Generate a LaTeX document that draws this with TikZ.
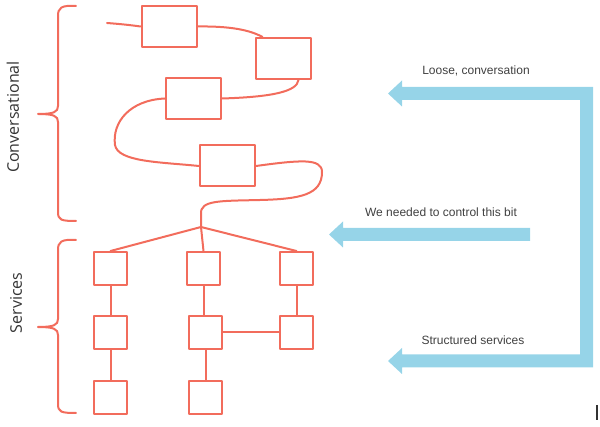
\documentclass[tikz,border=0pt]{standalone}
\usepackage{fontspec}
\setmainfont{Liberation Sans}
\newfontfamily\labfont{Open Sans}
\definecolor{sketchred}{RGB}{242,108,92}
\definecolor{arrowblue}{RGB}{150,212,232}
\begin{document}
\begin{tikzpicture}[x=1pt,y=-1pt,
  redline/.style={draw=sketchred,line width=2pt,line cap=round,line join=round},
  cbox/.style={redline,rectangle,inner sep=0pt,minimum width=55pt,minimum height=41pt},
  sbox/.style={redline,rectangle,inner sep=0pt,minimum width=33pt,minimum height=33pt},
  bluefill/.style={fill=arrowblue,draw=none},
  sidelabel/.style={font=\labfont\fontsize{16}{16}\selectfont,rotate=90,text=black!80},
  arrowlabel/.style={font=\fontsize{12}{12}\selectfont,text=black!75}]
\useasboundingbox (0,0) rectangle (600,427);

% conversational boxes
\node[cbox] (b1) at (169,26.5) {};
\node[cbox] (b2) at (283,58.5) {};
\node[cbox] (b3) at (193.5,98.5) {};
\node[cbox] (b4) at (227.5,166) {};
\coordinate (start) at (107,23);
\coordinate (hub) at (201,227);

% services boxes
\node[sbox] (s11) at (110.5,268.5) {};
\node[sbox] (s12) at (203.5,268.5) {};
\node[sbox] (s13) at (296.5,268.5) {};
\node[sbox] (s21) at (110.5,332.5) {};
\node[sbox] (s22) at (205.5,332.5) {};
\node[sbox] (s23) at (296.5,332.5) {};
\node[sbox] (s31) at (110.5,397.5) {};
\node[sbox] (s32) at (205.5,397.5) {};

% conversation curve
\draw[redline] (start) .. controls (120,24) and (130,25) .. (b1.west);
\draw[redline] (b1.east) .. controls (230,26) and (250,30) .. ([xshift=8pt]b2.north west);
\draw[redline] ([xshift=-13pt]b2.south east) .. controls (297,92) and (270,97) .. (b3.east);
\draw[redline] (b3.west) .. controls (130,100) and (112,122) .. (115,145)
  .. controls (118,162) and (160,162) .. (b4.west);
\draw[redline] (b4.east) .. controls (300,160) and (322,158) .. (322,172)
  .. controls (322,195) and (300,199) .. (260,200)
  .. controls (220,201) and (200,200) .. (201,214) -- (hub);

% tree
\draw[redline] (hub) -- (s11.north);
\draw[redline] (hub) -- (s12.north);
\draw[redline] (hub) -- (s13.north);
\draw[redline] (s11) -- (s21);
\draw[redline] (s21) -- (s31);
\draw[redline] (s12.south) -- (s22.north -| s12.south);
\draw[redline] (s22) -- (s32);
\draw[redline] (s13) -- (s23);
\draw[redline] (s22) -- (s23);

% braces
\draw[redline] (76,6) .. controls (61,5) and (58,8) .. (58,16) -- (58,106)
  .. controls (58,112) and (54,114) .. (38,114)
  .. controls (54,114) and (58,116) .. (58,122) -- (58,212)
  .. controls (58,220) and (61,221) .. (76,221);
\draw[redline] (76,240) .. controls (61,239) and (58,242) .. (58,250) -- (58,319)
  .. controls (58,325) and (54,327) .. (38,327)
  .. controls (54,327) and (58,329) .. (58,335) -- (58,404)
  .. controls (58,412) and (61,413) .. (76,413);

\node[sidelabel] (conv) at (13,117) {Conversational};
\node[sidelabel] (serv) at (16,303) {Services};

% blue arrows
\fill[bluefill] (593,87) -- (593,367.5) -- (402,367.5) -- (402,374) -- (388,361)
  -- (402,348) -- (402,354.5) -- (580,354.5) -- (580,100) -- (402,100)
  -- (402,106.5) -- (388,93.5) -- (402,80.5) -- (402,87) -- cycle;
\fill[bluefill] (530,228) -- (530,241) -- (343,241) -- (343,247.5) -- (329,234.5)
  -- (343,221.5) -- (343,228) -- cycle;

\node[arrowlabel] (l1) at (476,71) {Loose, conversation};
\node[arrowlabel] (l2) at (441,212) {We needed to control this bit};
\node[arrowlabel] (l3) at (473,340) {Structured services};

\draw[black!80,line width=1.2pt] (597,405) -- (597,420);
\end{tikzpicture}
\end{document}
